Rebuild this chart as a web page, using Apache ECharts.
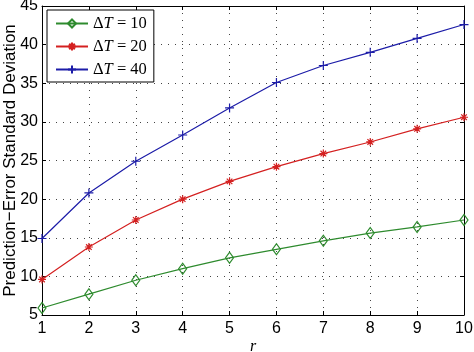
<!DOCTYPE html>
<html>
<head>
<meta charset="utf-8">
<script src="https://cdn.jsdelivr.net/npm/echarts@6/dist/echarts.min.js"></script>
<style>
  html, body { margin: 0; padding: 0; background: #fff; }
  #chart { width: 474px; height: 352px; }
</style>
</head>
<body>
<div id="chart"></div>
<script>
// data
const rValues = [1, 2, 3, 4, 5, 6, 7, 8, 9, 10]
const dt10 = [5.9, 7.7, 9.5, 11.0, 12.4, 13.5, 14.6, 15.6, 16.4, 17.3]
const dt20 = [9.6, 13.8, 17.3, 20.0, 22.3, 24.2, 25.9, 27.4, 29.1, 30.6]
const dt40 = [14.9, 20.8, 24.9, 28.3, 31.8, 35.1, 37.3, 39.0, 40.8, 42.6]
const seriesNames = ['dt10', 'dt20', 'dt40']
const legendLabels = { dt10: '10', dt20: '20', dt40: '40' }

const COLORS = {
  dt10: '#2e8b2e',
  dt20: '#d42020',
  dt40: '#1c1ca8',
}

const toPairs = (ys) => ys.map((y, i) => [rValues[i], y])

const PLUS = 'path://M5,0 L5,10 M0,5 L10,5'
const STAR = 'path://M5,0 L5,10 M0,5 L10,5 M1.5,1.5 L8.5,8.5 M8.5,1.5 L1.5,8.5'

const chart = echarts.init(document.getElementById('chart'), null, { renderer: 'canvas' })

const makeSeries = (name, data, symbol, size, fillNone) => ({
  name,
  type: 'line',
  data: toPairs(data),
  symbol,
  symbolSize: size,
  showAllSymbol: true,
  animation: false,
  lineStyle: { color: COLORS[name], width: 1.2 },
  itemStyle: {
    color: fillNone ? 'none' : COLORS[name],
    borderColor: COLORS[name],
    borderWidth: 1.2,
  },
  emphasis: { disabled: true },
})

const axisCommon = {
  axisLine: { show: true, onZero: false, lineStyle: { color: '#000', width: 1 } },
  axisTick: { show: true, inside: true, length: 4, lineStyle: { color: '#000' } },
  splitLine: { show: false },
}

const gridLine = { show: true, lineStyle: { color: '#444', type: [1, 6], width: 1 } }

chart.setOption({
  backgroundColor: '#fff',
  grid: { left: 42, right: 10, top: 6, bottom: 37, containLabel: false, outerBoundsMode: 'none' },
  legend: {
    left: 47,
    top: 10,
    orient: 'vertical',
    data: seriesNames,
    itemWidth: 32,
    itemHeight: 10,
    itemGap: 6,
    padding: [5, 7, 4, 8],
    backgroundColor: '#fff',
    borderColor: '#000',
    borderWidth: 1,
    borderRadius: 0,
    selectedMode: false,
    formatter: (name) => `{a|Δ}{i|T}{a| = ${legendLabels[name]}}`,
    textStyle: {
      rich: {
        a: { fontFamily: 'Liberation Serif', fontSize: 16.5, color: '#000' },
        i: { fontFamily: 'Liberation Serif', fontStyle: 'italic', fontSize: 16.5, color: '#000' },
      },
    },
  },
  xAxis: [
    {
      ...axisCommon,
      type: 'value',
      min: 1,
      max: 10,
      interval: 1,
      name: 'r',
      nameLocation: 'middle',
      nameGap: 24,
      nameMoveOverlap: false,
      nameTextStyle: { fontFamily: 'Liberation Serif', fontStyle: 'italic', fontSize: 16, color: '#000' },
      axisLabel: { fontFamily: 'Liberation Sans', fontSize: 16, color: '#000', margin: 6 },
      splitLine: gridLine,
    },
    {
      ...axisCommon,
      type: 'value',
      position: 'top',
      min: 1,
      max: 10,
      interval: 1,
      axisLabel: { show: false },
    },
  ],
  yAxis: [
    {
      ...axisCommon,
      type: 'value',
      min: 5,
      max: 45,
      interval: 5,
      name: 'Prediction−Error Standard Deviation',
      nameLocation: 'middle',
      nameGap: 23,
      nameMoveOverlap: false,
      nameTextStyle: { fontFamily: 'Liberation Sans', fontSize: 17, color: '#000' },
      axisLabel: { fontFamily: 'Liberation Sans', fontSize: 16, color: '#000', margin: 4 },
      splitLine: gridLine,
    },
    {
      ...axisCommon,
      type: 'value',
      position: 'right',
      min: 5,
      max: 45,
      interval: 5,
      axisLabel: { show: false },
    },
  ],
  series: [
    makeSeries('dt10', dt10, 'diamond', [8, 11], true),
    makeSeries('dt20', dt20, STAR, 8, false),
    makeSeries('dt40', dt40, PLUS, 9, false),
  ],
})
</script>
</body>
</html>
